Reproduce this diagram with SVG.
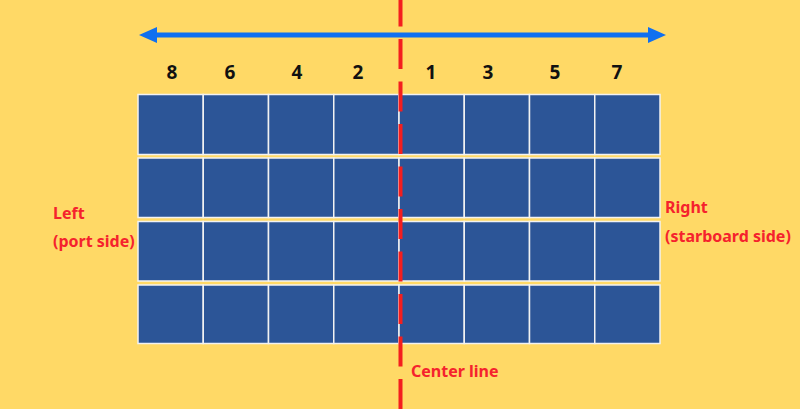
<svg xmlns="http://www.w3.org/2000/svg" width="800" height="409" viewBox="0 0 800 409">
  <defs>
    <style>
      .cell { fill: #2C5597; stroke: #F2F2F2; stroke-width: 1.5; }
      .num { font-family: "Noto Sans", "Open Sans", sans-serif; font-weight: bold; font-size: 19px; fill: #111; text-anchor: middle; }
      .lbl { font-family: "Noto Sans", "Open Sans", sans-serif; font-weight: bold; font-size: 16px; fill: #F5222D; }
      .arrow { stroke: #1070F0; stroke-width: 5; fill: none; }
      .center { stroke: #F41E1E; stroke-width: 4; stroke-dasharray: 30 12.5; stroke-dashoffset: 3.5; fill: none; }
    </style>
    <marker id="ah" viewBox="0 0 18 16" refX="0" refY="8" markerWidth="18" markerHeight="16" markerUnits="userSpaceOnUse" orient="auto-start-reverse">
      <polygon points="0,0 18,8 0,16" fill="#1070F0"/>
    </marker>
  </defs>
  <rect width="800" height="409" fill="#FFD966"/>

  <g id="grid">
    <g id="row1">
      <rect class="cell" x="138" y="94.5" width="65.25" height="60"/>
      <rect class="cell" x="203.25" y="94.5" width="65.25" height="60"/>
      <rect class="cell" x="268.5" y="94.5" width="65.25" height="60"/>
      <rect class="cell" x="333.75" y="94.5" width="65.25" height="60"/>
      <rect class="cell" x="399" y="94.5" width="65.25" height="60"/>
      <rect class="cell" x="464.25" y="94.5" width="65.25" height="60"/>
      <rect class="cell" x="529.5" y="94.5" width="65.25" height="60"/>
      <rect class="cell" x="594.75" y="94.5" width="65.25" height="60"/>
    </g>
    <g id="row2">
      <rect class="cell" x="138" y="158" width="65.25" height="59.5"/>
      <rect class="cell" x="203.25" y="158" width="65.25" height="59.5"/>
      <rect class="cell" x="268.5" y="158" width="65.25" height="59.5"/>
      <rect class="cell" x="333.75" y="158" width="65.25" height="59.5"/>
      <rect class="cell" x="399" y="158" width="65.25" height="59.5"/>
      <rect class="cell" x="464.25" y="158" width="65.25" height="59.5"/>
      <rect class="cell" x="529.5" y="158" width="65.25" height="59.5"/>
      <rect class="cell" x="594.75" y="158" width="65.25" height="59.5"/>
    </g>
    <g id="row3">
      <rect class="cell" x="138" y="221.5" width="65.25" height="59.5"/>
      <rect class="cell" x="203.25" y="221.5" width="65.25" height="59.5"/>
      <rect class="cell" x="268.5" y="221.5" width="65.25" height="59.5"/>
      <rect class="cell" x="333.75" y="221.5" width="65.25" height="59.5"/>
      <rect class="cell" x="399" y="221.5" width="65.25" height="59.5"/>
      <rect class="cell" x="464.25" y="221.5" width="65.25" height="59.5"/>
      <rect class="cell" x="529.5" y="221.5" width="65.25" height="59.5"/>
      <rect class="cell" x="594.75" y="221.5" width="65.25" height="59.5"/>
    </g>
    <g id="row4">
      <rect class="cell" x="138" y="285" width="65.25" height="58.5"/>
      <rect class="cell" x="203.25" y="285" width="65.25" height="58.5"/>
      <rect class="cell" x="268.5" y="285" width="65.25" height="58.5"/>
      <rect class="cell" x="333.75" y="285" width="65.25" height="58.5"/>
      <rect class="cell" x="399" y="285" width="65.25" height="58.5"/>
      <rect class="cell" x="464.25" y="285" width="65.25" height="58.5"/>
      <rect class="cell" x="529.5" y="285" width="65.25" height="58.5"/>
      <rect class="cell" x="594.75" y="285" width="65.25" height="58.5"/>
    </g>
  </g>

  <g id="numbers">
    <text class="num" x="172" y="79">8</text>
    <text class="num" x="230" y="79">6</text>
    <text class="num" x="297" y="79">4</text>
    <text class="num" x="358" y="79">2</text>
    <text class="num" x="431" y="79">1</text>
    <text class="num" x="488" y="79">3</text>
    <text class="num" x="555" y="79">5</text>
    <text class="num" x="617" y="79">7</text>
  </g>

  <g id="connectors">
    <line class="arrow" x1="157" y1="35" x2="648" y2="35" marker-start="url(#ah)" marker-end="url(#ah)"/>
    <line class="center" x1="400.5" y1="0" x2="400.5" y2="409"/>
  </g>

  <g id="labels">
    <text class="lbl" x="53" y="219">Left</text>
    <text class="lbl" x="53" y="247">(port side)</text>
    <text class="lbl" x="665" y="213">Right</text>
    <text class="lbl" x="665" y="242">(starboard side)</text>
    <text class="lbl" x="411" y="377">Center line</text>
  </g>
</svg>
